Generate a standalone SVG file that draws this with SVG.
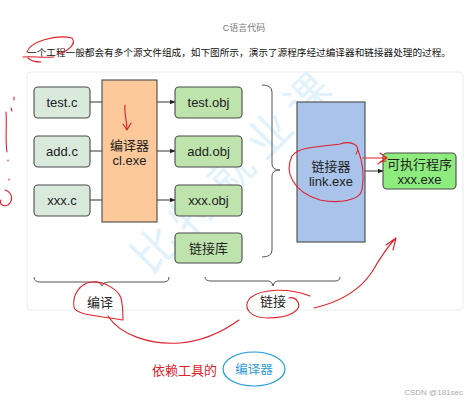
<svg xmlns="http://www.w3.org/2000/svg" width="474" height="402" viewBox="0 0 474 402">
<defs>
<style>
text{font-family:"Liberation Sans","Noto Sans CJK SC",sans-serif;}
.n{stroke:#4a4a4a;stroke-width:1.1;}
.lbl{font-size:13px;fill:#222;text-anchor:middle;}
.ln{stroke:#333;stroke-width:1;fill:none;}
.br{stroke:#555;stroke-width:1;fill:none;}
.red{stroke:#e0202a;stroke-width:1.1;fill:none;stroke-linecap:round;stroke-linejoin:round;}
</style>
<marker id="ah" viewBox="0 0 10 10" refX="9" refY="5" markerWidth="6" markerHeight="6" orient="auto">
<path d="M0,1 L10,5 L0,9 z" fill="#222"/>
</marker>
</defs>
<rect width="474" height="402" fill="#fff"/>
<text x="244" y="31" font-size="9" fill="#777" text-anchor="middle">C语言代码</text>
<text x="27" y="56" font-size="9.6" fill="#111" textLength="424" lengthAdjust="spacingAndGlyphs">一个工程一般都会有多个源文件组成，如下图所示，演示了源程序经过编译器和链接器处理的过程。</text>
<rect x="27" y="72" width="436" height="238" rx="4" fill="#fff" stroke="#ececec"/>
<text x="235" y="185" font-size="44" fill="#e2f2fc" text-anchor="middle" letter-spacing="10" transform="rotate(-45 235 170)">比特就业课</text>
<g id="connectors">
<path class="ln" d="M90 102 H102 M90 151 H102 M90 200 H102"/>
<path class="ln" marker-end="url(#ah)" d="M157 102 H175"/>
<path class="ln" marker-end="url(#ah)" d="M157 151 H175"/>
<path class="ln" marker-end="url(#ah)" d="M157 200 H175"/>
<path class="ln" marker-end="url(#ah)" d="M365 171 H383"/>
<path class="br" d="M262 85 Q272 85 272 92 V164 Q272 170 280 170 Q272 170 272 176 V250 Q272 257 262 257"/>
<path class="br" d="M34 277 Q34 282 40 282 H96 Q101 282 102 286 Q103 282 108 282 H164 Q169 282 169 277"/>
<path class="br" d="M205 277 Q205 281 211 281 H268 Q272 281 273 286 Q274 281 278 281 H335 Q340 281 340 277"/>
</g>
<g id="test_c"><rect class="n" x="34" y="87" width="56" height="31" rx="4" fill="#d9e9dc"/><text class="lbl" x="62" y="107">test.c</text></g>
<g id="add_c"><rect class="n" x="34" y="136" width="56" height="31" rx="4" fill="#d9e9dc"/><text class="lbl" x="62" y="156">add.c</text></g>
<g id="xxx_c"><rect class="n" x="34" y="185" width="56" height="31" rx="4" fill="#d9e9dc"/><text class="lbl" x="62" y="205">xxx.c</text></g>
<g id="compiler"><rect class="n" x="102" y="80" width="55" height="142" fill="#fdc99b"/><text class="lbl" x="129.5" y="150">编译器</text><text class="lbl" x="129.5" y="165">cl.exe</text></g>
<g id="test_obj"><rect class="n" x="175" y="87" width="67" height="31" rx="4" fill="#bfe3ad"/><text class="lbl" x="208.5" y="107">test.obj</text></g>
<g id="add_obj"><rect class="n" x="175" y="136" width="67" height="31" rx="4" fill="#bfe3ad"/><text class="lbl" x="208.5" y="156">add.obj</text></g>
<g id="xxx_obj"><rect class="n" x="175" y="185" width="67" height="31" rx="4" fill="#bfe3ad"/><text class="lbl" x="208.5" y="205">xxx.obj</text></g>
<g id="lib"><rect class="n" x="175" y="233" width="67" height="30" rx="4" fill="#bfe3ad"/><text class="lbl" x="208.5" y="253">链接库</text></g>
<g id="linker"><rect class="n" x="297" y="102" width="68" height="140" fill="#a9c3ea"/><text class="lbl" x="331" y="171">链接器</text><text class="lbl" x="331" y="186">link.exe</text></g>
<g id="exe"><rect class="n" x="383" y="153" width="73" height="36" rx="4" fill="#8eec7e"/><text class="lbl" x="419.5" y="169" font-size="12.5">可执行程序</text><text class="lbl" x="419.5" y="184" font-size="12.5">xxx.exe</text></g>
<g id="labels">
<text class="lbl" x="100" y="307">编译</text>
<text class="lbl" x="273" y="306">链接</text>
</g>
<g id="annotations">
<path class="red" d="M27 52 C30 42 55 34 72 38 C77 44 68 51 58 54"/>
<path class="red" d="M23 57 C32 56 42 58 54 57 M28 58 C32 62 37 62 41 62"/>
<path class="red" d="M14 97 l0 3 M11 108 l1 3 M6 112 C7 128 5 140 7 152 M8 160 l0 1 M9 179 l0 1 M5 190 C12 192 14 200 8 205 C3 207 -1 204 1 200"/>
<path class="red" d="M125 105 C124 113 127 121 127 130 M123 124 L127 130 L131 123"/>
<path class="red" d="M356 154 C362 146 352 140 340 144 C320 147 300 146 292 156 C284 172 293 192 320 200 C340 204 360 200 362 190 C365 172 362 160 358 150"/>
<path class="red" d="M363 158 H387 M380 153 L387 158 L380 162 M378 164 C380 162 383 161 386 161"/>
<path class="red" d="M74 307 C72 295 80 283 92 282 C105 281 118 290 121 298 C123 306 123 314 123 320 C110 318 95 316 85 314 C78 312 74 309 74 307"/>
<path class="red" d="M108 316 C120 335 150 345 180 343 C205 341 225 330 239 320"/>
<path class="red" d="M310 296 C290 288 262 288 250 298 C242 308 250 318 268 318 C290 318 302 310 298 302 C296 298 292 297 289 298"/>
<path class="red" d="M314 308 C340 302 360 290 372 272 C380 258 386 248 396 238 M386 245 L396 238 L393 250"/>
</g>
<text x="152" y="375" font-size="13" fill="#e0202a">依赖工具的</text>
<ellipse cx="254" cy="369" rx="31" ry="17" fill="none" stroke="#1d9ad8" stroke-width="1.2"/>
<text x="254" y="374" font-size="12.5" fill="#2a9ad8" text-anchor="middle">编译器</text>
<text x="463" y="395" font-size="8" fill="#aaa" text-anchor="end">CSDN @181sec</text>
</svg>
